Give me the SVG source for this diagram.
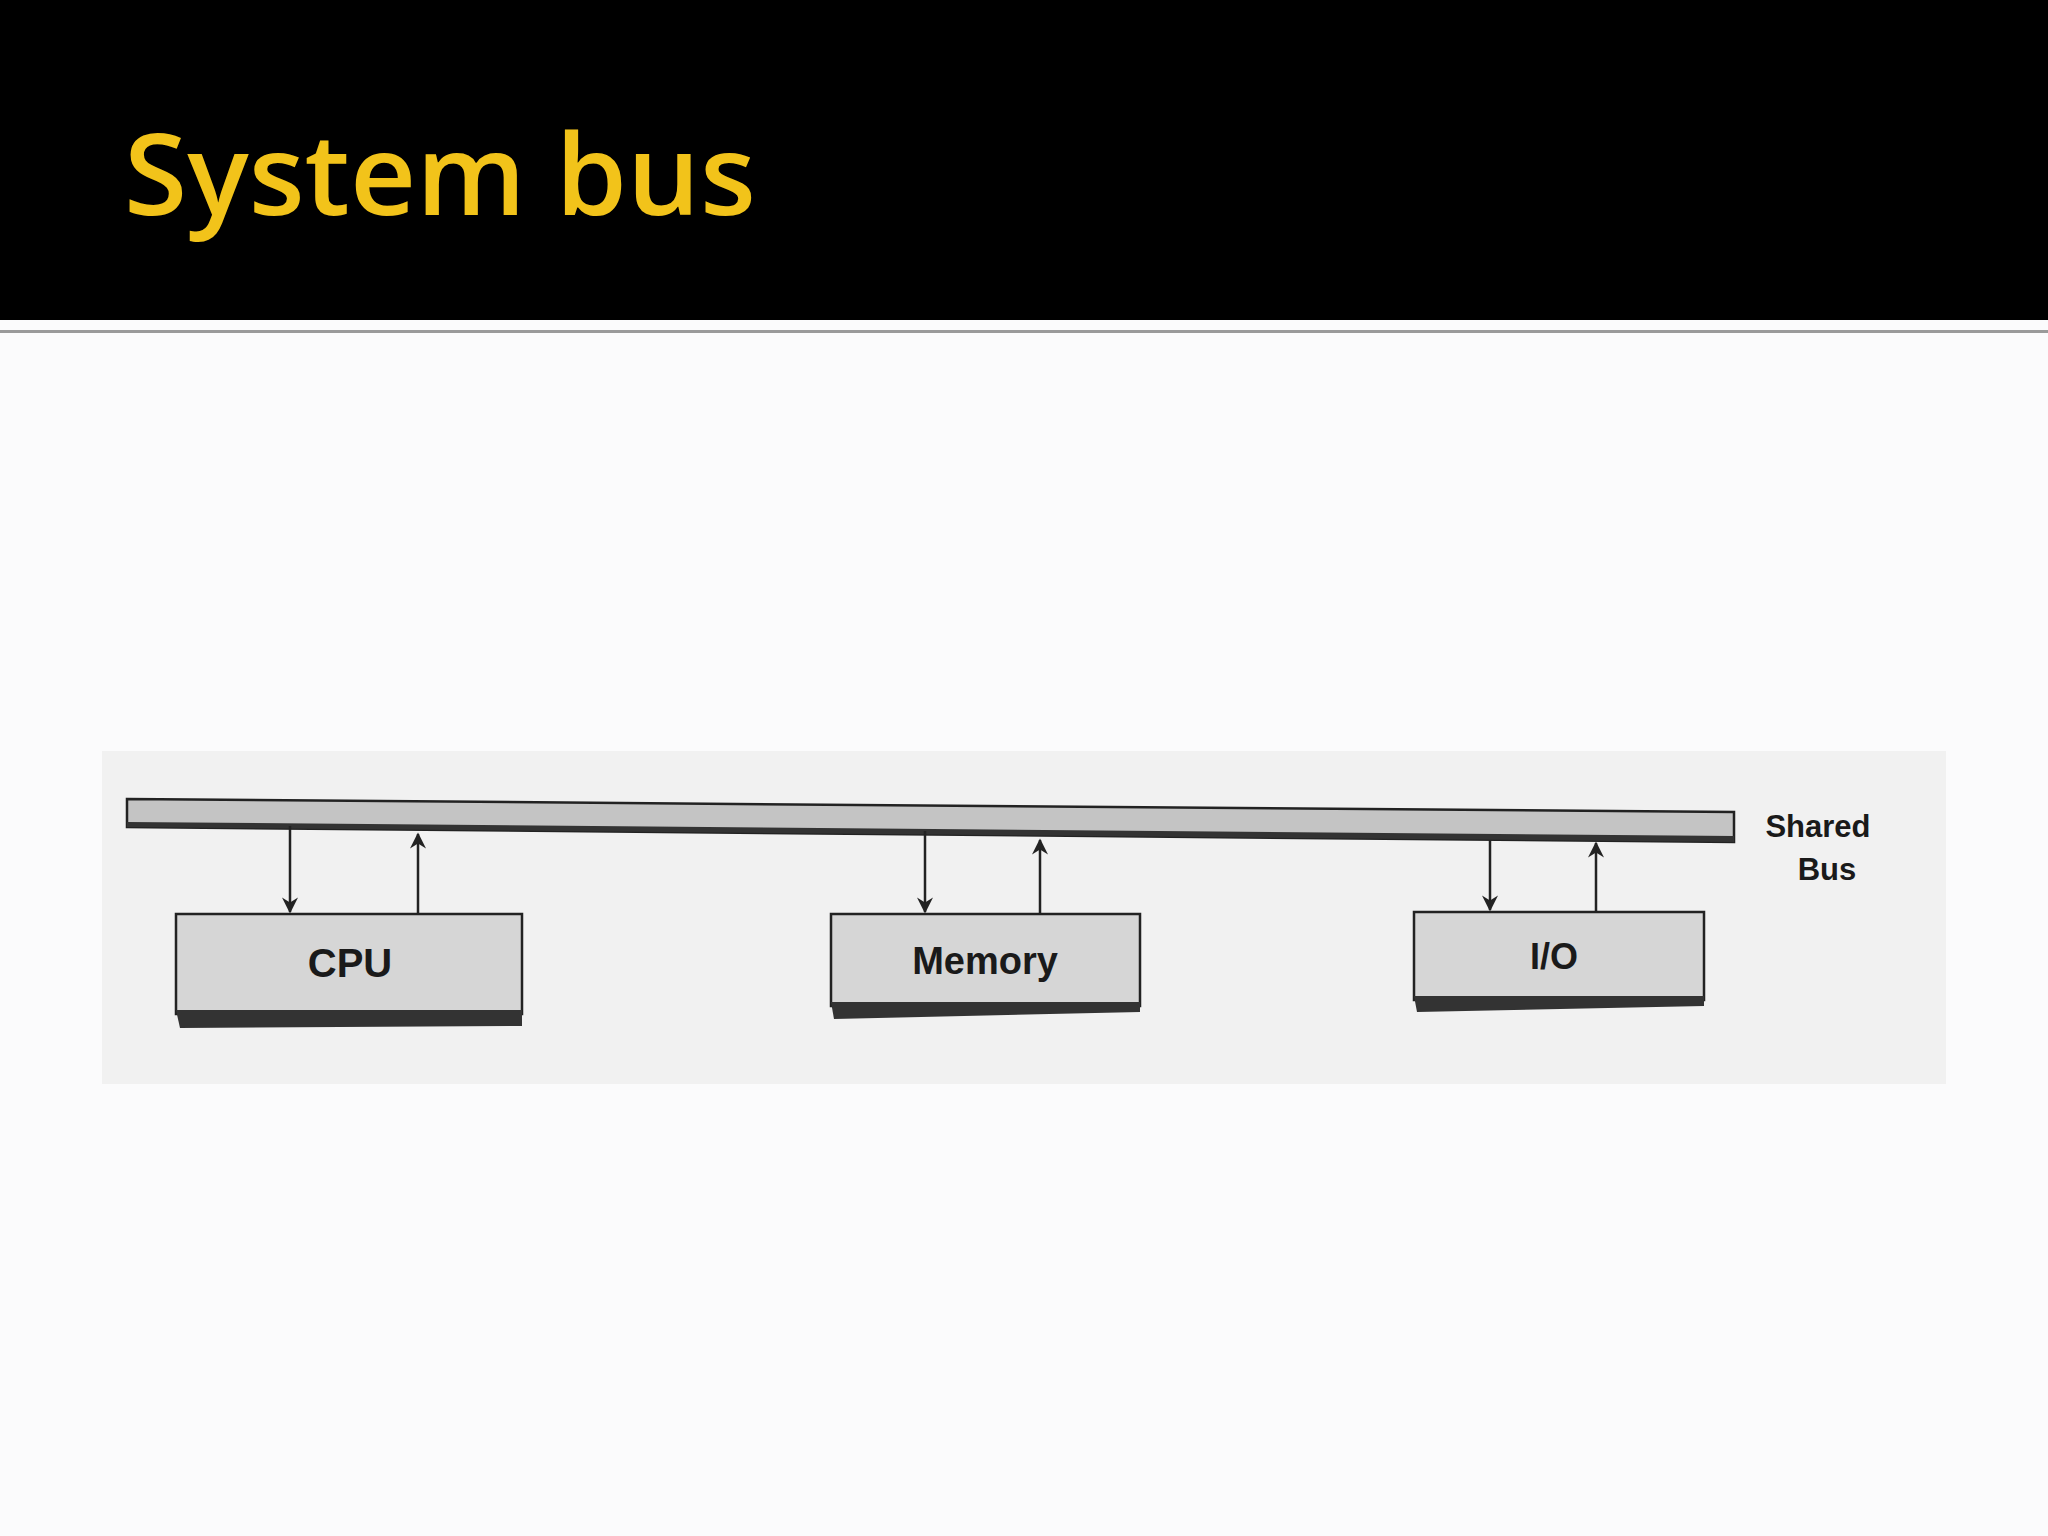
<svg xmlns="http://www.w3.org/2000/svg" width="2048" height="1536" viewBox="0 0 2048 1536">
<defs>
<marker id="ah" viewBox="0 0 10 10" refX="9" refY="5" markerWidth="7" markerHeight="9" orient="auto" markerUnits="userSpaceOnUse"><path d="M0,0 L10,5 L0,10 z" fill="#222"/></marker>
<marker id="ahb" viewBox="0 0 10 10" refX="9" refY="5" markerWidth="22" markerHeight="16" orient="auto" markerUnits="userSpaceOnUse"><path d="M0,0 L10,5 L0,10 L3,5 z" fill="#222"/></marker>
</defs>
<style>
.box{fill:#d6d6d6;stroke:#222;stroke-width:2.5}
.sh{fill:#333}
.lbl{font-family:"Liberation Sans",Arial,sans-serif;font-weight:bold;fill:#1a1a1a;text-anchor:middle}
.ar{stroke:#222;stroke-width:2.5;fill:none}
</style>
<rect width="2048" height="1536" fill="#fbfbfc"/>
<rect width="2048" height="320" fill="#000"/>
<rect y="330" width="2048" height="3" fill="#9a9a9a"/>
<text x="124" y="215" font-family="'Open Sans','Noto Sans',sans-serif" font-size="112" font-weight="600" fill="#f2c31a" textLength="632" lengthAdjust="spacingAndGlyphs">System bus</text>
<rect x="102" y="751" width="1844" height="333" fill="#f1f1f1"/>
<g id="bus">
<polygon points="127,799 1734,812 1734,842 127,827" fill="#c4c4c4" stroke="#222" stroke-width="2.5"/>
<polygon points="127,822 1734,836 1734,842 127,827" fill="#333"/>
<text class="lbl" x="1818" y="837" font-size="31">Shared</text>
<text class="lbl" x="1827" y="880" font-size="31">Bus</text>
</g>
<g id="cpu">
<rect class="box" x="176" y="914" width="346" height="100"/>
<path class="sh" d="M176,1010 L522,1010 L522,1026 L180,1028 z"/>
<text class="lbl" x="350" y="977" font-size="40">CPU</text>
</g>
<g id="memory">
<rect class="box" x="831" y="914" width="309" height="92"/>
<path class="sh" d="M831,1002 L1140,1002 L1140,1012 L834,1019 z"/>
<text class="lbl" x="985" y="974" font-size="38">Memory</text>
</g>
<g id="io">
<rect class="box" x="1414" y="912" width="290" height="88"/>
<path class="sh" d="M1414,996 L1704,996 L1704,1006 L1417,1012 z"/>
<text class="lbl" x="1554" y="969" font-size="36">I/O</text>
</g>
<g id="connectors">
<line class="ar" x1="290" y1="826" x2="290" y2="912" marker-end="url(#ahb)"/>
<line class="ar" x1="418" y1="914" x2="418" y2="834" marker-end="url(#ahb)"/>
<line class="ar" x1="925" y1="831" x2="925" y2="912" marker-end="url(#ahb)"/>
<line class="ar" x1="1040" y1="914" x2="1040" y2="840" marker-end="url(#ahb)"/>
<line class="ar" x1="1490" y1="840" x2="1490" y2="910" marker-end="url(#ahb)"/>
<line class="ar" x1="1596" y1="912" x2="1596" y2="843" marker-end="url(#ahb)"/>
</g>
</svg>
